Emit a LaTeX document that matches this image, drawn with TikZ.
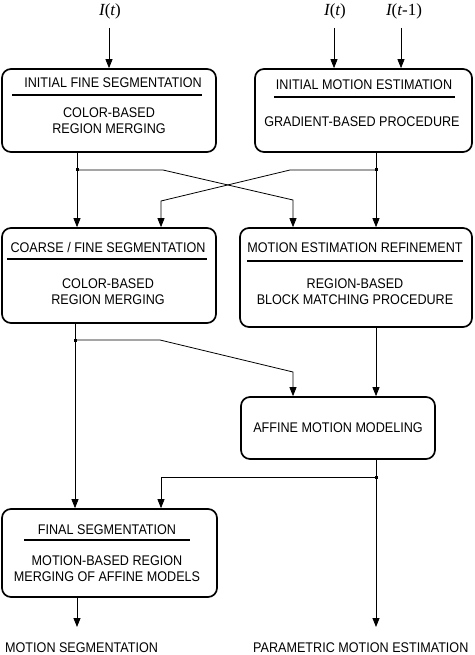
\documentclass[tikz,border=0pt]{standalone}
\usepackage{fontspec}
\setmainfont{Liberation Sans}[FakeStretch=0.9]
\newfontfamily\serifit{Liberation Serif}
\usetikzlibrary{arrows.meta}
\begin{document}
\begin{tikzpicture}[x=1pt,y=-1pt,
  box/.style={draw, line width=1.7pt, rounded corners=9pt, inner sep=0pt},
  txt/.style={font=\fontsize{14}{16.2}\selectfont, inner sep=0pt, align=center},
  ttl/.style={txt, anchor=base},
  lbl/.style={font=\serifit\fontsize{17}{20}\selectfont, inner sep=0pt, anchor=base},
  conn/.style={line width=0.8pt},
  arr/.style={conn, -{Triangle[length=9pt,width=7pt]}},
  uline/.style={line width=1.4pt},
  dot/.style={fill, minimum size=3pt, inner sep=0pt, rectangle}
]
\useasboundingbox (0,0) rectangle (474,655);

% inputs
\node[lbl] (in1) at (110,16) {\itshape I\upshape(\itshape t\upshape)};
\node[lbl] (in2) at (335,16) {\itshape I\upshape(\itshape t\upshape)};
\node[lbl] (in3) at (404,16) {\itshape I\upshape(\itshape t\upshape-1)};
\coordinate (s1) at (109,28);
\coordinate (s2) at (334,28);
\coordinate (s3) at (401,28);

% boxes
\node[box, minimum width=214pt, minimum height=83pt] (b1) at (109,110.5) {};
\node[box, minimum width=217pt, minimum height=83pt] (b2) at (363.5,110.5) {};
\node[box, minimum width=214pt, minimum height=95pt] (b3) at (109,275.5) {};
\node[box, minimum width=232pt, minimum height=99pt] (b4) at (356,277.5) {};
\node[box, minimum width=194pt, minimum height=62pt] (b5) at (338,428) {};
\node[box, minimum width=215pt, minimum height=88pt] (b6) at (109.5,553) {};

% box texts
\node[ttl] (t1) at (113,88) {INITIAL FINE SEGMENTATION};
\draw[uline] (12,95) -- (202,95);
\node[txt] (d1) at (109,121) {COLOR-BASED\\REGION MERGING};

\node[ttl] (t2) at (364,90) {INITIAL MOTION ESTIMATION};
\draw[uline] (274,97) -- (455,97);
\node[txt] (d2) at (362,122) {GRADIENT-BASED PROCEDURE};

\node[ttl] (t3) at (108,252) {COARSE / FINE SEGMENTATION};
\draw[uline] (7,259) -- (207,259);
\node[txt] (d3) at (108,292) {COLOR-BASED\\REGION MERGING};

\node[ttl] (t4) at (355,252) {MOTION ESTIMATION REFINEMENT};
\draw[uline] (247,261) -- (463,261);
\node[txt] (d4) at (355,292) {REGION-BASED\\BLOCK MATCHING PROCEDURE};

\node[txt] (d5) at (338,428) {AFFINE MOTION MODELING};

\node[ttl] (t6) at (107,534) {FINAL SEGMENTATION};
\draw[uline] (24,540) -- (190,540);
\node[txt] (d6) at (107,569) {MOTION-BASED REGION\\MERGING OF AFFINE MODELS};

% outputs
\node[txt, anchor=base west] (o1) at (5,652) {MOTION SEGMENTATION};
\node[txt, anchor=base west] (o2) at (253,652) {PARAMETRIC MOTION ESTIMATION};

% junctions
\coordinate (j1) at (77,170);
\coordinate (j2) at (376,170);
\coordinate (j3) at (75,340);
\coordinate (j4) at (376,477);
\coordinate (e1) at (77,627);
\coordinate (e2) at (376,627);

% input arrows
\draw[arr] (s1) -- (s1 |- b1.north);
\draw[arr] (s2) -- (s2 |- b2.north);
\draw[arr] (s3) -- (s3 |- b2.north);

% level 1 -> level 2
\draw[conn] (j1 |- b1.south) -- (j1);
\draw[arr] (j1) -- (j1 |- b3.north);
\draw[arr] (j1) -- (163,170) -- (293,200) -- (293,0 |- b4.north);
\draw[conn] (j2 |- b2.south) -- (j2);
\draw[arr] (j2) -- (j2 |- b4.north);
\draw[arr] (j2) -- (290,170) -- (161,201) -- (161,0 |- b3.north);

% level 2 -> level 3
\draw[conn] (j3 |- b3.south) -- (j3);
\draw[arr] (j3) -- (j3 |- b6.north);
\draw[arr] (j3) -- (160,340) -- (293,372) -- (293,0 |- b5.north);
\draw[arr] (376,0 |- b4.south) -- (376,0 |- b5.north);

% level 3 -> outputs
\draw[conn] (j4 |- b5.south) -- (j4);
\draw[arr] (j4) -- (e2);
\draw[arr] (j4) -- (161,477) -- (161,0 |- b6.north);
\draw[arr] (e1 |- b6.south) -- (e1);

\node[dot] (k1) at (j1) {};
\node[dot] (k2) at (j2) {};
\node[dot] (k3) at (j3) {};
\node[dot] (k4) at (j4) {};
\end{tikzpicture}
\end{document}
